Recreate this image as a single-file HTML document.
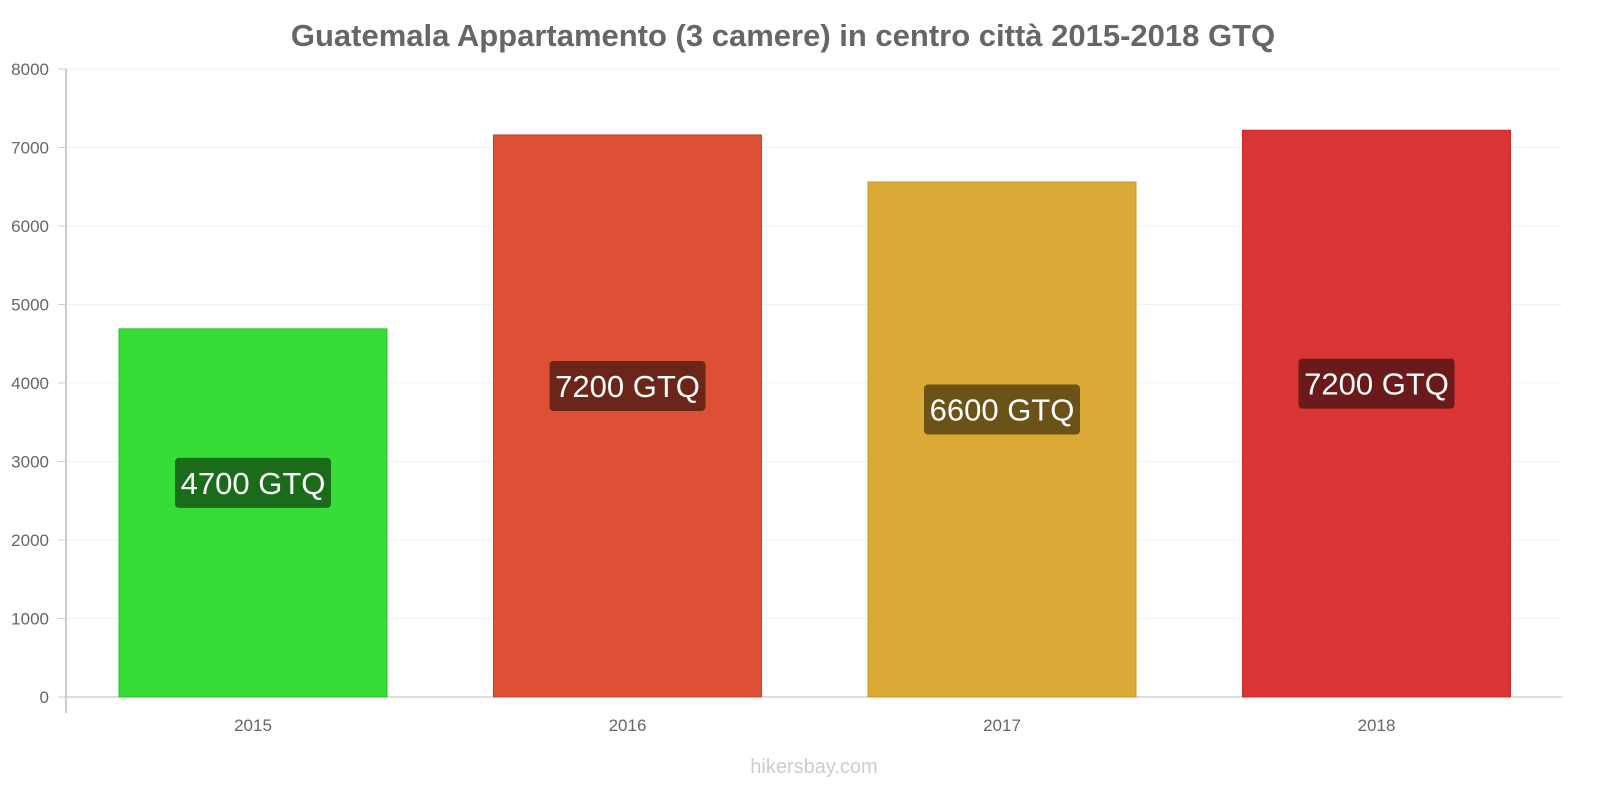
<!DOCTYPE html>
<html><head><meta charset="utf-8">
<style>
html,body{margin:0;padding:0;background:#fff;overflow:hidden;width:1600px;height:800px;font-family:"Liberation Sans",sans-serif}
svg{display:block}
svg text{font-family:"Liberation Sans",sans-serif}
</style></head>
<body>
<svg width="1600" height="800" viewBox="0 0 1600 800">
<text x="783" y="46" text-anchor="middle" font-size="31" font-weight="bold" fill="#666">Guatemala Appartamento (3 camere) in centro città 2015-2018 GTQ</text>
<g id="grid"></g><g id="bars"></g><g id="axes"></g>
<text x="814" y="773" text-anchor="middle" font-size="20" fill="#ccc">hikersbay.com</text>
</svg>
<script>
const categories=["2015","2016","2017","2018"];
const values=[4690,7160,6560,7220];
const labels=["4700 GTQ","7200 GTQ","6600 GTQ","7200 GTQ"];
const yTicks=[0,1000,2000,3000,4000,5000,6000,7000,8000];
const fills=["#36dd36","#dd5035","#dba935","#da3535"];
const strokes=["#2cbf2c","#c44530","#c8972a","#c42d2d"];
const labelBg=["#1a6b1a","#6b2619","#6b5219","#6b1a1a"];
const NS="http://www.w3.org/2000/svg";
const y0=697,pxPer=(697-69)/8000;
const y=v=>y0-v*pxPer;
const x=i=>253+i*374.5;
function mk(t,a,p){const e=document.createElementNS(NS,t);for(const k in a)e.setAttribute(k,a[k]);p.appendChild(e);return e;}
const grid=document.getElementById('grid'),bars=document.getElementById('bars'),axes=document.getElementById('axes');
yTicks.forEach(v=>{
 const l=mk('line',{x1:66,x2:1562,y1:y(v),y2:y(v),stroke:v===0?'#bbb':'#f0f0f0','stroke-width':1},grid);
 
 
 const t=mk('text',{x:49,y:y(v)+6,'text-anchor':'end','font-size':17,fill:'#666'},axes);
 t.textContent=v;
 
 
 mk('line',{x1:58,x2:66,y1:y(v),y2:y(v),stroke:'#ccc'},axes);
});
const ax=mk('line',{x1:66,x2:66,y1:69,y2:713,stroke:'#ccc','stroke-width':2},axes);


categories.forEach((c,i)=>{
 const cx=x(i),w=268;
 const r=mk('rect',{x:cx-w/2,y:y(values[i]),width:w,height:y0-y(values[i]),fill:fills[i],stroke:strokes[i],'stroke-width':1},bars);
 
 
 const my=(y(values[i])+y0)/2-30;
 const g=mk('g',{},bars);
 
 
 mk('rect',{x:cx-78,y:my-25,width:156,height:50,rx:4,fill:labelBg[i]},g);
 const t=mk('text',{x:cx,y:my+11,'text-anchor':'middle','font-size':31,fill:'#fff'},g);
 t.textContent=labels[i];
 const xt=mk('text',{x:cx,y:731,'text-anchor':'middle','font-size':17,fill:'#666'},axes);
 xt.textContent=c;
 
 
});
</script>
</body></html>
